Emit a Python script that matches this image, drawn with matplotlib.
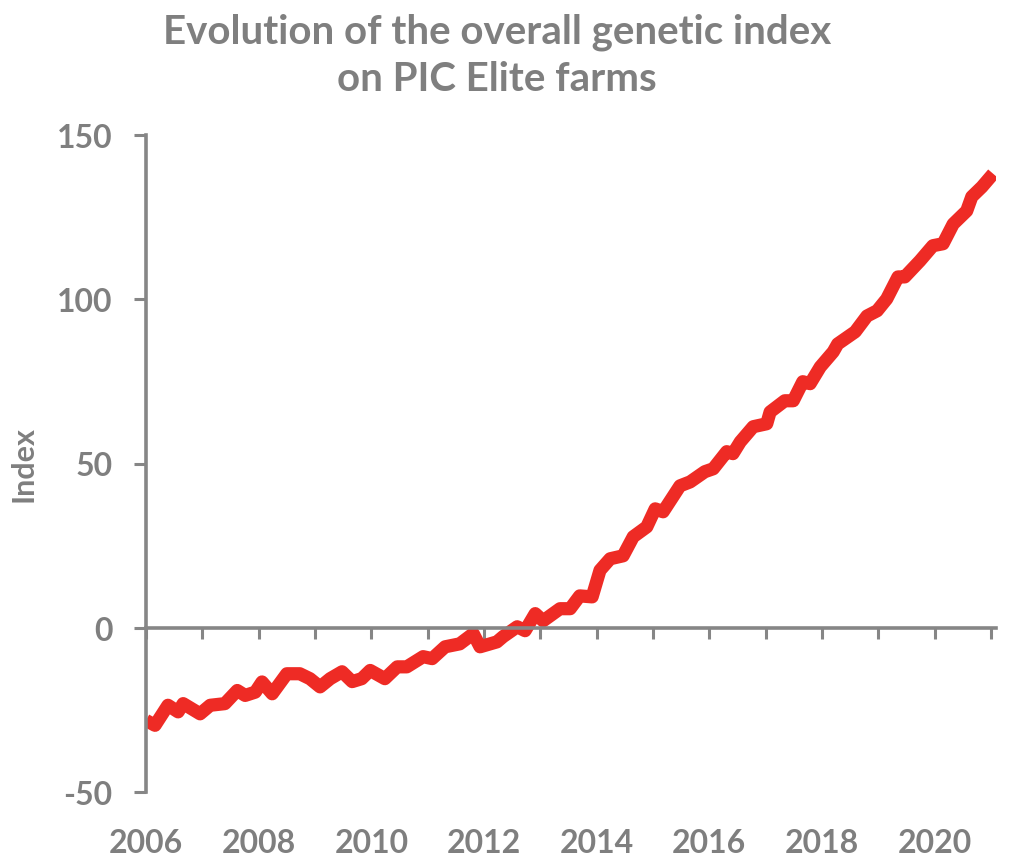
import matplotlib.pyplot as plt
from matplotlib.ticker import MultipleLocator

# Valores (ano decimal, índice)
anos = [2006.00, 2006.16, 2006.39, 2006.57, 2006.66, 2006.96, 2007.14, 2007.40,
        2007.62, 2007.76, 2007.94, 2008.06, 2008.24, 2008.50, 2008.73, 2008.91,
        2009.09, 2009.27, 2009.48, 2009.66, 2009.83, 2009.98, 2010.24, 2010.46,
        2010.63, 2010.92, 2011.08, 2011.31, 2011.57, 2011.81, 2011.93, 2012.23,
        2012.34, 2012.59, 2012.73, 2012.91, 2013.05, 2013.35, 2013.53, 2013.70,
        2013.92, 2014.06, 2014.24, 2014.47, 2014.65, 2014.89, 2015.04, 2015.18,
        2015.48, 2015.66, 2015.92, 2016.07, 2016.31, 2016.42, 2016.55, 2016.78,
        2017.02, 2017.08, 2017.34, 2017.49, 2017.66, 2017.79, 2017.97, 2018.20,
        2018.28, 2018.59, 2018.80, 2018.98, 2019.15, 2019.35, 2019.47, 2019.74,
        2019.97, 2020.15, 2020.33, 2020.57, 2020.66, 2020.84, 2021.04]
indice = [-28.2, -29.7, -23.6, -25.6, -23.1, -26.2, -23.6, -23.1,
          -19.1, -20.6, -19.6, -16.5, -20.1, -14.0, -14.0, -15.5,
          -18.0, -15.5, -13.4, -16.4, -15.5, -13.0, -15.5, -11.9,
          -11.9, -8.8, -9.4, -5.8, -4.9, -1.8, -5.8, -4.3,
          -2.7, 0.3, -0.9, 4.3, 2.1, 5.8, 5.8, 9.7,
          9.4, 17.5, 21.0, 21.9, 27.7, 30.7, 36.2, 35.3,
          43.2, 44.4, 47.5, 48.4, 53.6, 53.0, 56.6, 61.2,
          62.1, 65.7, 69.1, 69.1, 74.9, 74.3, 79.4, 84.0,
          86.4, 90.1, 94.9, 96.5, 100.1, 106.8, 106.8, 111.7,
          116.3, 116.9, 122.9, 126.9, 131.2, 134.2, 138.2]
rotulos_anos = [2006, 2008, 2010, 2012, 2014, 2016, 2018, 2020]

cinza = '#7f7f7f'
cinza_eixo = '#868686'
vermelho = '#ee2b25'

plt.rcParams['font.family'] = ['Lato', 'DejaVu Sans']
plt.rcParams['axes.unicode_minus'] = False

fig = plt.figure(figsize=(10.23, 8.62), dpi=100)
ax = fig.add_axes([146 / 1023, 1 - 793 / 862, 850 / 1023, 657 / 862])

ax.plot(anos, indice, color=vermelho, lw=9.5, solid_capstyle='butt',
        solid_joinstyle='round')

ax.set_xlim(2006, 2021.09)
ax.set_ylim(-50, 150)

# Eixo horizontal na linha do zero, com marcas anuais
for lado in ['top', 'right']:
    ax.spines[lado].set_visible(False)
ax.spines['bottom'].set_position(('data', 0))
ax.spines['bottom'].set_color(cinza_eixo)
ax.spines['bottom'].set_linewidth(2.6)
ax.spines['left'].set_color(cinza_eixo)
ax.spines['left'].set_linewidth(2.6)

ax.xaxis.set_major_locator(MultipleLocator(1))
ax.tick_params(axis='x', direction='out', length=8, width=2.2,
               color=cinza_eixo, labelbottom=False)
ax.yaxis.set_major_locator(MultipleLocator(50))
ax.tick_params(axis='y', direction='out', length=9, width=2.2,
               color=cinza_eixo, labelsize=23, labelcolor=cinza, pad=15)
for t in ax.get_yticklabels():
    t.set_fontweight('bold')

# Rótulos dos anos na base do gráfico
sec = ax.secondary_xaxis('bottom')
sec.spines['bottom'].set_visible(False)
sec.set_xticks(rotulos_anos)
sec.set_xticklabels([str(a) for a in rotulos_anos], fontweight='bold')
sec.tick_params(axis='x', length=0, pad=26, labelsize=23, labelcolor=cinza)

ax.set_ylabel('Index', fontsize=22, color=cinza, fontweight='bold', labelpad=14)

fig.text(497 / 1023, 1 - 56 / 862,
         'Evolution of the overall genetic index\non PIC Elite farms',
         ha='center', va='center', fontsize=29, color=cinza,
         fontweight='bold', linespacing=1.35)

fig.savefig('out.png', dpi=100)
